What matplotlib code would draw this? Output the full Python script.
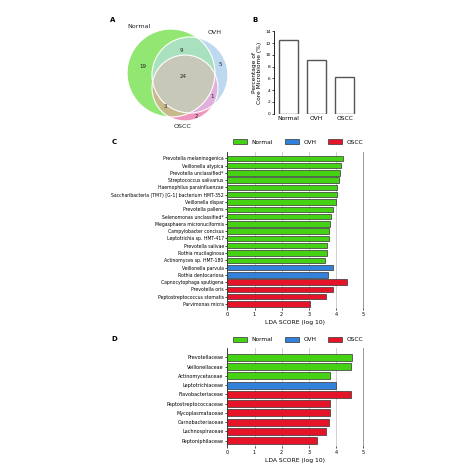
import numpy as np
import matplotlib
matplotlib.use("Agg")
import matplotlib.pyplot as plt
from matplotlib.patches import Circle, Patch

W, H = 474, 475

# panel A: venn counts
venn_sets = ["Normal", "OVH", "OSCC"]
venn_counts = {"100": 19, "010": 5, "001": 2, "110": 9, "101": 3, "011": 1, "111": 24}

# panel B: core microbiome
core_groups = ["Normal", "OVH", "OSCC"]
core_pct = [12.5, 9.1, 6.3]

# panel C: species LDA
species = ["Prevotella melaninogenica", "Veillonella atypica", "Prevotella unclassified*",
           "Streptococcus salivarius", "Haemophilus parainfluenzae",
           "Saccharibacteria (TM7) [G-1] bacterium HMT-352", "Veillonella dispar",
           "Prevotella pallens", "Selenomonas unclassified*", "Megasphaera micronuciformis",
           "Campylobacter concisus", "Leptotrichia sp. HMT-417", "Prevotella salivae",
           "Rothia mucilaginosa", "Actinomyces sp. HMT-180", "Veillonella parvula",
           "Rothia dentocariosa", "Capnocytophaga sputigena", "Prevotella oris",
           "Peptostreptococcus stomatis", "Parvimonas micra"]
species_lda = [4.24, 4.17, 4.15, 4.09, 4.03, 4.02, 4.01, 3.90, 3.81, 3.77, 3.74,
               3.73, 3.68, 3.65, 3.58, 3.87, 3.70, 4.40, 3.87, 3.63, 3.04]
species_grp = ["Normal"] * 15 + ["OVH"] * 2 + ["OSCC"] * 4

# panel D: family LDA
families = ["Prevotellaceae", "Veillonellaceae", "Actinomycetaceae", "Leptotrichiaceae",
            "Flavobacteriaceae", "Peptostreptococcaceae", "Mycoplasmataceae",
            "Carnobacteriaceae", "Lachnospiraceae", "Peptoniphilaceae"]
family_lda = [4.60, 4.56, 3.77, 3.98, 4.53, 3.79, 3.76, 3.73, 3.64, 3.30]
family_grp = ["Normal"] * 3 + ["OVH"] + ["OSCC"] * 6

grp_colors = {"Normal": "#46d214", "OVH": "#3282dc", "OSCC": "#e61428"}


def px_axes(fig, x0, y0, x1, y1):
    return fig.add_axes([x0 / W, 1 - y1 / H, (x1 - x0) / W, (y1 - y0) / H])


fig = plt.figure(figsize=(W / 100, H / 100), dpi=100)

# ---------- A: venn ----------
axA = px_axes(fig, 110, 15, 240, 135)
axA.set_xlim(110, 240)
axA.set_ylim(135, 15)
axA.axis("off")
circles = [((171, 73), 44), ((190, 75), 38), ((185, 88), 33)]
xs = np.linspace(110, 240, 650)
ys = np.linspace(15, 135, 600)
X, Y = np.meshgrid(xs, ys)
code = np.zeros(X.shape, dtype=int)
for i, ((cx, cy), r) in enumerate(circles):
    code += ((X - cx) ** 2 + (Y - cy) ** 2 < r ** 2).astype(int) << i
region_rgb = {1: "#92e872", 2: "#bedaf0", 4: "#f096be", 3: "#aae1be",
              5: "#c8b98c", 6: "#e1afdc", 7: "#c8c8b9"}
lut = np.ones((8, 4))
lut[0, 3] = 0
for k, c in region_rgb.items():
    lut[k] = matplotlib.colors.to_rgba(c)
axA.imshow(lut[code], extent=(110, 240, 135, 15), origin="upper",
           interpolation="bilinear", aspect="auto")
for (cx, cy), r in circles:
    axA.add_patch(Circle((cx, cy), r, fill=False, ec="white", lw=0.8))
count_pos = {"100": (143, 66), "010": (220, 65), "001": (196, 116), "110": (181, 50),
             "101": (165, 107), "011": (212, 97), "111": (183, 77)}
for key, n in venn_counts.items():
    axA.text(*count_pos[key], str(n), fontsize=4, ha="center", va="center", color="#222")
for name, pos in zip(venn_sets, [(139, 26), (215, 33), (183, 127)]):
    axA.text(*pos, name, fontsize=4.6, ha="center", va="center", color="#222")
fig.text(113 / W, 1 - 20 / H, "A", fontsize=5, weight="bold", ha="center", va="center")

# ---------- B: core microbiome ----------
axB = px_axes(fig, 274, 31.3, 359, 113.7)
axB.bar(range(len(core_groups)), core_pct, width=0.67, color="white",
        edgecolor="#555555", lw=1.0)
axB.set_xlim(-0.5, 2.5)
axB.set_ylim(0, 14)
axB.set_yticks(range(0, 15, 2))
axB.set_xticks(range(len(core_groups)))
axB.set_xticklabels(core_groups, fontsize=4.3)
axB.tick_params(axis="y", labelsize=3.2, length=1.5, width=0.5, pad=1)
axB.tick_params(axis="x", length=0, pad=2)
for s in ["top", "right", "bottom"]:
    axB.spines[s].set_visible(False)
axB.spines["left"].set_linewidth(0.6)
axB.set_ylabel("Percentage of\nCore Microbiome (%)", fontsize=4.2, labelpad=2, linespacing=1.0)
fig.text(255 / W, 1 - 20 / H, "B", fontsize=5, weight="bold", ha="center", va="center")


def lda_panel(ax, names, vals, grps, top_margin, bottom_margin, label_size):
    pos = np.arange(len(names))
    ax.barh(pos, vals, height=0.75, color=[grp_colors[g] for g in grps],
            edgecolor="#333333", lw=0.5, zorder=3)
    ax.set_ylim(len(names) - 1 + bottom_margin, -top_margin)
    ax.set_xlim(0, 5)
    ax.set_yticks(pos)
    ax.set_yticklabels(names, fontsize=label_size)
    ax.set_xticks(range(6))
    ax.tick_params(axis="x", labelsize=3.6, length=1.5, width=0.5, pad=1.5)
    ax.tick_params(axis="y", length=1.5, width=0.5, pad=1)
    ax.grid(axis="x", color="#bbbbbb", lw=0.5, zorder=0)
    for s in ["top", "bottom"]:
        ax.spines[s].set_visible(False)
    ax.spines["left"].set_linewidth(0.5)
    ax.spines["right"].set_color("#888888")
    ax.spines["right"].set_linewidth(0.6)
    ax.set_xlabel("LDA SCORE (log 10)", fontsize=4.3, labelpad=2)


handles = [Patch(facecolor=grp_colors[g], edgecolor="#333333", lw=0.5, label=g)
           for g in core_groups]

# ---------- C: species ----------
axC = px_axes(fig, 227.3, 151.7, 363.3, 307.7)
lda_panel(axC, species, species_lda, species_grp, 0.9, 0.5, 3.3)
fig.legend(handles=handles, loc="center", bbox_to_anchor=(298 / W, 1 - 142 / H),
           ncol=3, frameon=False, fontsize=4.2, handlelength=2.4, handleheight=0.9,
           columnspacing=2.0, handletextpad=0.8)
fig.text(114 / W, 1 - 142 / H, "C", fontsize=5, weight="bold", ha="center", va="center")

# ---------- D: families ----------
axD = px_axes(fig, 227.3, 348.3, 363.3, 446)
lda_panel(axD, families, family_lda, family_grp, 0.97, 0.57, 3.5)
fig.legend(handles=handles, loc="center", bbox_to_anchor=(298 / W, 1 - 339.5 / H),
           ncol=3, frameon=False, fontsize=4.2, handlelength=2.4, handleheight=0.9,
           columnspacing=2.0, handletextpad=0.8)
fig.text(114 / W, 1 - 339 / H, "D", fontsize=5, weight="bold", ha="center", va="center")

fig.savefig("out.png", dpi=100)
